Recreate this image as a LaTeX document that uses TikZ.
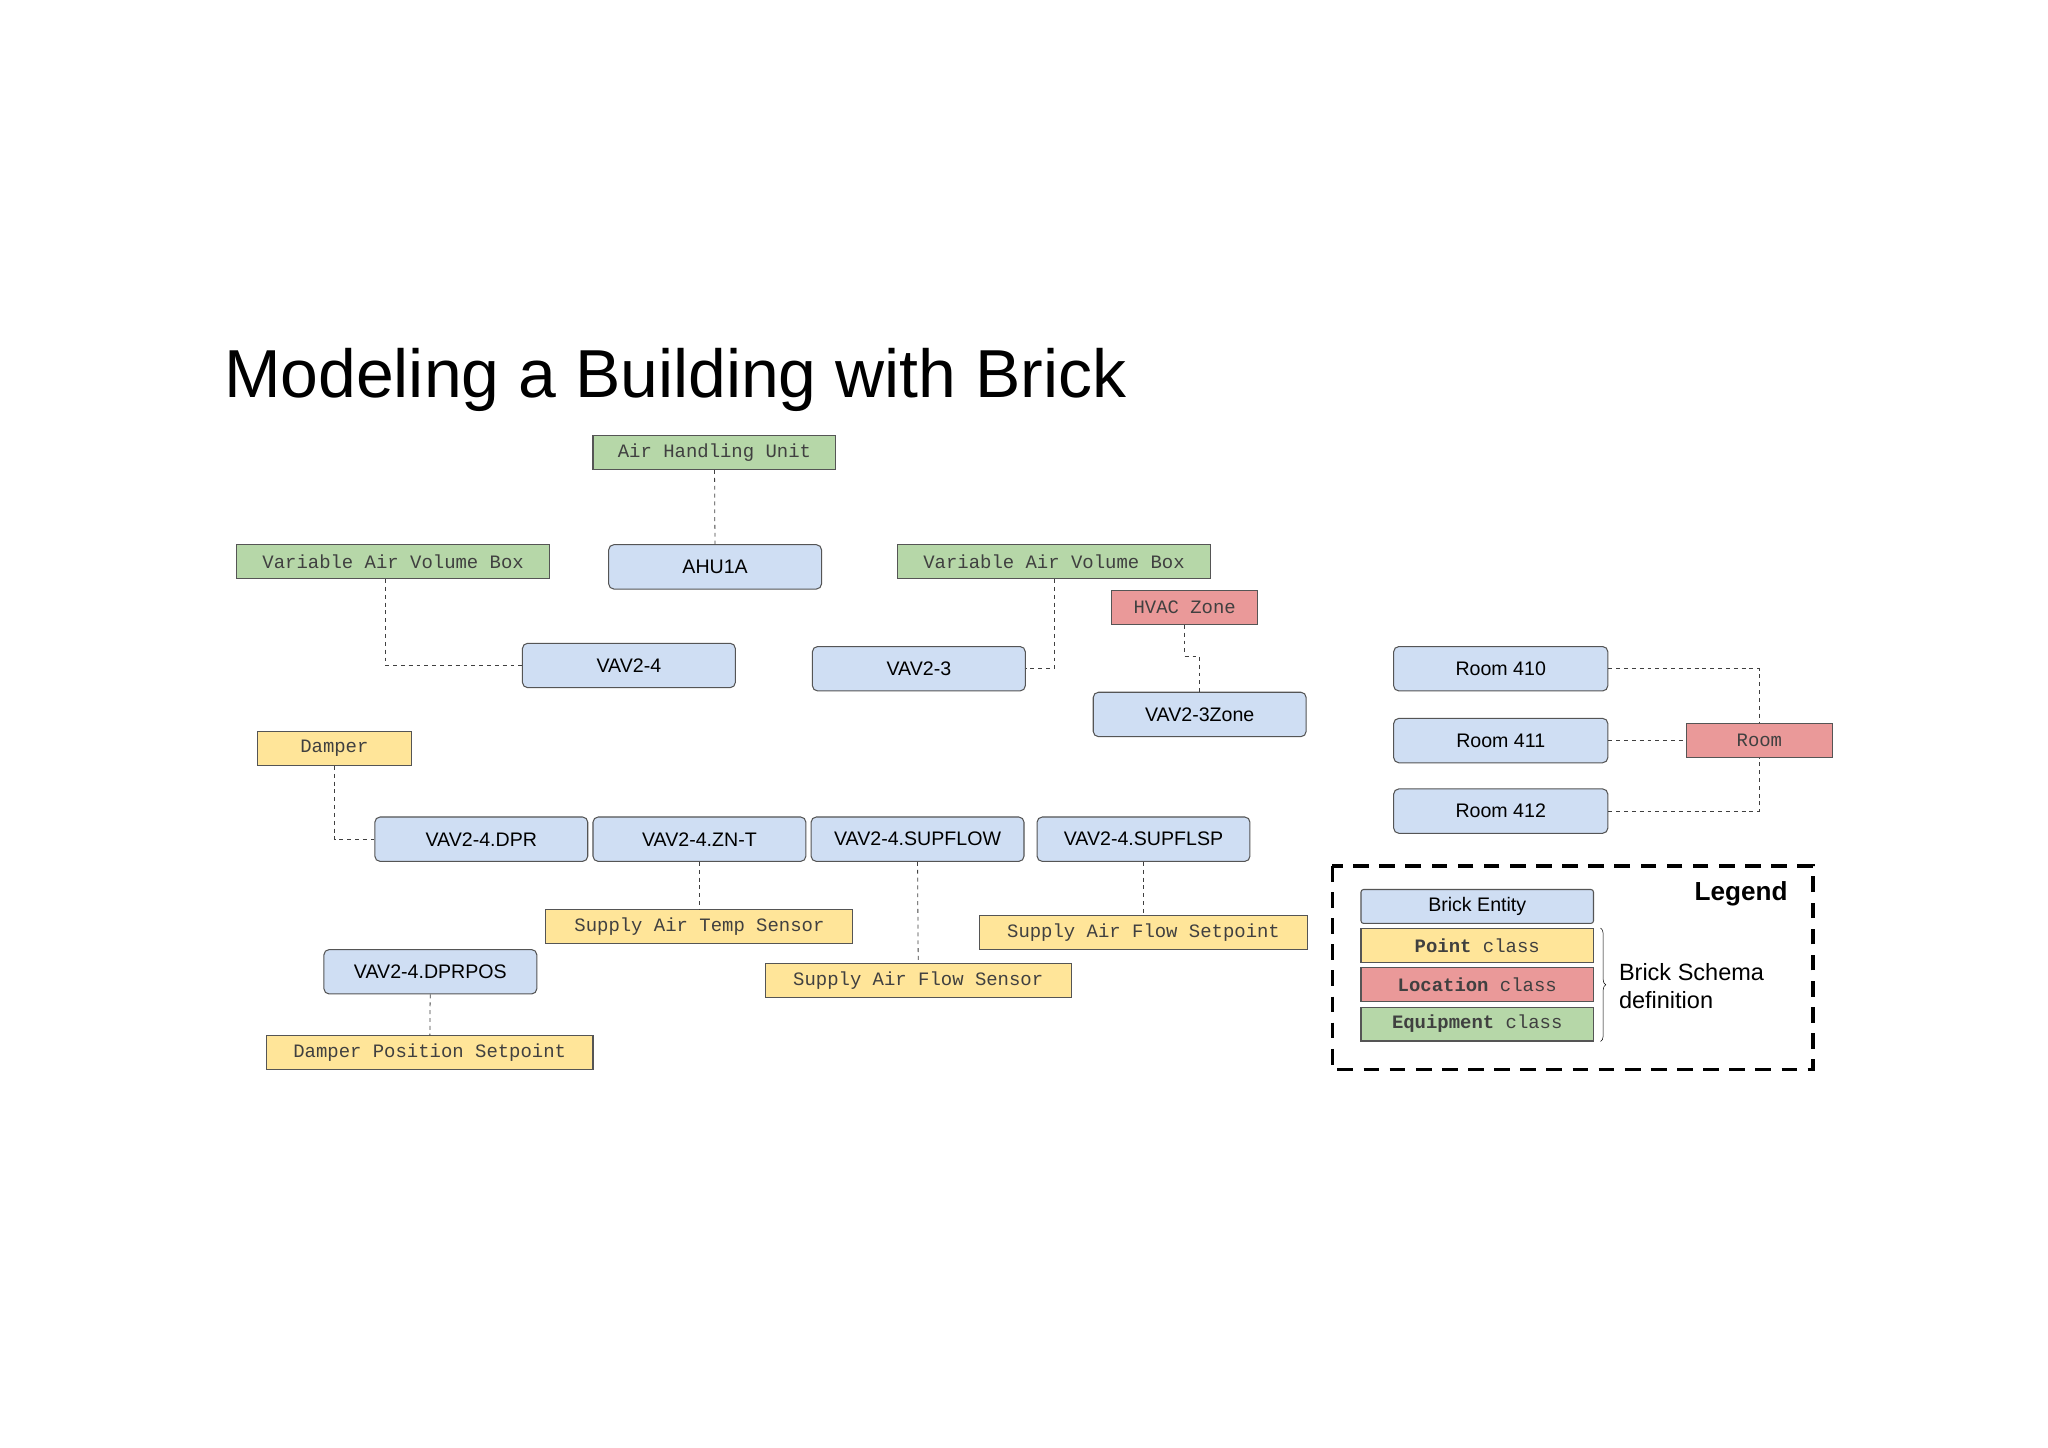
\documentclass[tikz,border=0pt]{standalone}
\usepackage{fontspec}
\setmainfont{Liberation Sans}
\newfontfamily\monofont{Liberation Mono}
\usetikzlibrary{positioning, decorations.pathreplacing}
\definecolor{entityblue}{RGB}{207,222,243}
\definecolor{pointyellow}{RGB}{255,229,153}
\definecolor{locred}{RGB}{234,153,153}
\definecolor{equipgreen}{RGB}{182,215,168}
\definecolor{edgegray}{RGB}{85,85,85}
\tikzset{
  entity/.style={draw=edgegray, thick, fill=entityblue, rounded corners=4pt, minimum width=163pt, minimum height=34pt, font=\fontsize{15}{17}\selectfont},
  klass/.style={draw=edgegray, thick, minimum height=26pt, text=black!75, font=\monofont\fontsize{14.5}{16}\selectfont},
  point/.style={klass, fill=pointyellow},
  location/.style={klass, fill=locred},
  equip/.style={klass, fill=equipgreen},
  link/.style={draw=black!75, dashed, semithick}
}
\begin{document}
\begin{tikzpicture}[x=1pt, y=-1pt]
  \fill[white] (0,0) rectangle (1568,1108);
  \useasboundingbox (0,0) rectangle (1568,1108);
  % title
  \node[anchor=west, font=\fontsize{52}{56}\selectfont] (title) at (168,291) {Modeling a Building with Brick};

  % classes
  \node[equip, minimum width=186pt] (ahuclass) at (547,346.5) {Air Handling Unit};
  \node[equip, minimum width=240pt] (vavclassL) at (301,430) {Variable Air Volume Box};
  \node[equip, minimum width=240pt] (vavclassR) at (807,430) {Variable Air Volume Box};
  \node[location, minimum width=112pt] (zoneclass) at (907,465) {HVAC Zone};
  \node[location, minimum width=112pt] (roomclass) at (1347,567) {Room};
  \node[point, minimum width=118pt] (damperclass) at (256,573) {Damper};
  \node[point, minimum width=235pt] (tempsensor) at (535.5,709.5) {Supply Air Temp Sensor};
  \node[point, minimum width=251pt] (flowsetpt) at (875.5,714) {Supply Air Flow Setpoint};
  \node[point, minimum width=234pt] (flowsensor) at (703,751) {Supply Air Flow Sensor};
  \node[point, minimum width=250pt] (dprsetpt) at (329,806) {Damper Position Setpoint};

  % entities
  \node[entity] (ahu) at (547.5,434) {AHU1A};
  \node[entity] (vav24) at (481.5,509.5) {VAV2-4};
  \node[entity] (vav23) at (703.5,512) {VAV2-3};
  \node[entity] (zone) at (918.5,547) {VAV2-3Zone};
  \node[entity, minimum width=164pt] (room410) at (1149,512) {Room 410};
  \node[entity, minimum width=164pt] (room411) at (1149,567) {Room 411};
  \node[entity, minimum width=164pt] (room412) at (1149,621) {Room 412};
  \node[entity] (dpr) at (368.5,642.5) {VAV2-4.DPR};
  \node[entity] (znt) at (535.5,642.5) {VAV2-4.ZN-T};
  \node[entity] (supflow) at (702.5,642.5) {VAV2-4.SUPFLOW};
  \node[entity] (supflsp) at (875.5,642.5) {VAV2-4.SUPFLSP};
  \node[entity] (dprpos) at (329.5,744) {VAV2-4.DPRPOS};

  % links
  \draw[link] (ahuclass) -- (ahu);
  \draw[link] (vavclassL.south -| 295,0) |- (vav24.west);
  \draw[link] (vavclassR.south) |- (vav23.east);
  \draw[link] (zoneclass.south) -- ++(0,24) -| (zone.north);
  \draw[link] (room410.east) -| (roomclass.north);
  \draw[link] (room411) -- (roomclass);
  \draw[link] (room412.east) -| (roomclass.south);
  \draw[link] (damperclass.south) |- (dpr.west);
  \draw[link] (znt) -- (tempsensor);
  \draw[link] (supflow.south) -- (flowsensor.north);
  \draw[link] (supflsp) -- (flowsetpt);
  \draw[link] (dprpos) -- (dprsetpt);

  % legend
  \draw[line width=2.5pt, dash pattern=on 12pt off 8pt] (1020,663) rectangle (1388,819);
  \node[font=\bfseries\fontsize{20}{22}\selectfont] (legendtitle) at (1333,684) {Legend};
  \node[entity, rounded corners=2pt, minimum width=178pt, minimum height=26pt] (lgentity) at (1131,694) {Brick Entity};
  \node[point, minimum width=178pt] (lgpoint) at (1131,724) {\textbf{Point} class};
  \node[location, minimum width=178pt] (lgloc) at (1131,754) {\textbf{Location} class};
  \node[equip, minimum width=178pt] (lgequip) at (1131,784) {\textbf{Equipment} class};
  \draw[decorate, decoration={brace, amplitude=4pt}, thin] (lgpoint.north east) ++(5,0) coordinate (bracetop) -- (lgequip.south east -| bracetop) coordinate (bracebot);
  \node[anchor=west, align=left, font=\fontsize{18}{22}\selectfont] (schema) at (1236,755) {Brick Schema\\definition};
\end{tikzpicture}
\end{document}
